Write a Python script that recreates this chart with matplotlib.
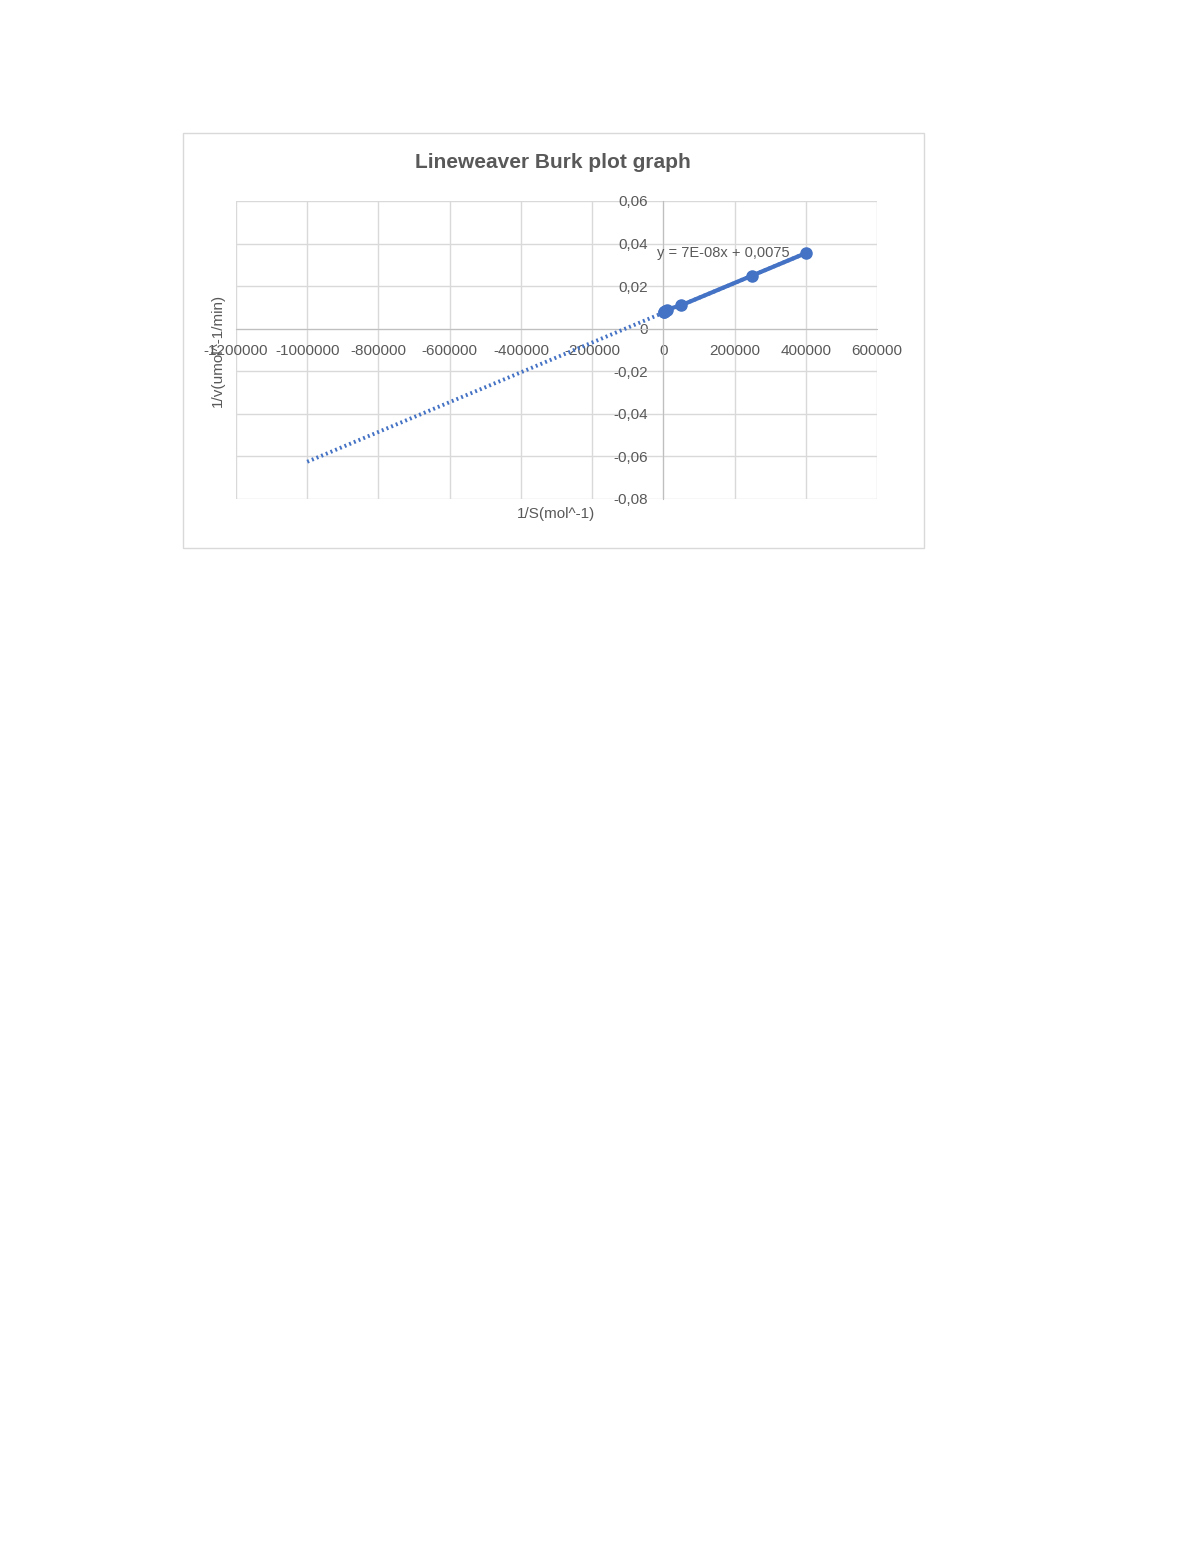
import numpy as np
import matplotlib.pyplot as plt
from matplotlib.patches import Rectangle
from matplotlib.ticker import FuncFormatter, MultipleLocator

plt.rcParams['font.family'] = ['Liberation Sans', 'DejaVu Sans']

# data
inv_s = [1000, 2000, 5000, 10000, 50000, 250000, 400000]
inv_v = [0.0077, 0.008, 0.0085, 0.009, 0.011, 0.025, 0.0355]
slope = 7e-08
intercept = 0.0075
trend_x = [-1000000, 400000]

W, H = 1200, 1553
fig = plt.figure(figsize=(W / 100, H / 100), dpi=100)
fig.patch.set_facecolor('white')

# chart border
fig.patches.append(Rectangle((183 / W, 1 - 548 / H), (924 - 183) / W, (548 - 133) / H,
                             transform=fig.transFigure, fill=False, edgecolor='#d9d9d9', lw=1))

ax = fig.add_axes([236 / W, 1 - 499 / H, (877 - 236) / W, (499 - 201) / H])
blue = '#4472c4'
txt = '#595959'

tx = np.array(trend_x, dtype=float)
ax.plot(tx, slope * tx + intercept, color=blue, lw=2.8, linestyle=(0, (0.5, 0.8)), zorder=3)
ax.plot(inv_s, inv_v, color=blue, lw=3, marker='o', ms=8, zorder=4)

ax.set_xlim(-1200000, 600000)
ax.set_ylim(-0.08, 0.06)
ax.xaxis.set_major_locator(MultipleLocator(200000))
ax.yaxis.set_major_locator(MultipleLocator(0.02))
ax.xaxis.set_major_formatter(FuncFormatter(lambda v, p: '%d' % round(v)))
ax.yaxis.set_major_formatter(FuncFormatter(lambda v, p: '0' if abs(v) < 1e-9 else ('%.2f' % v).replace('.', ',')))
ax.grid(True, color='#d9d9d9', lw=1)
ax.set_axisbelow(True)

for s in ['top', 'right']:
    ax.spines[s].set_visible(False)
ax.spines['left'].set_position(('data', 0))
ax.spines['bottom'].set_position(('data', 0))
ax.spines['left'].set_color('#bfbfbf')
ax.spines['bottom'].set_color('#bfbfbf')
ax.tick_params(axis='both', length=0, labelsize=11, labelcolor=txt)
ax.tick_params(axis='x', pad=11)
ax.tick_params(axis='y', pad=11)

ax.text(-17000, 0.0355, 'y = 7E-08x + 0,0075', color=txt, fontsize=10.5, va='center', ha='left', zorder=5)

fig.text(556 / W, 1 - 514 / H, '1/S(mol^-1)', color=txt, fontsize=11, ha='center', va='center')
fig.text(218 / W, 1 - 350 / H, '1/v(umol^-1/min)', color=txt, fontsize=11, ha='center', va='center', rotation=90)
fig.text(553 / W, 1 - 163 / H, 'Lineweaver Burk plot graph', color=txt, fontsize=15,
         fontweight='bold', ha='center', va='center')

fig.savefig('out.png', dpi=100)
